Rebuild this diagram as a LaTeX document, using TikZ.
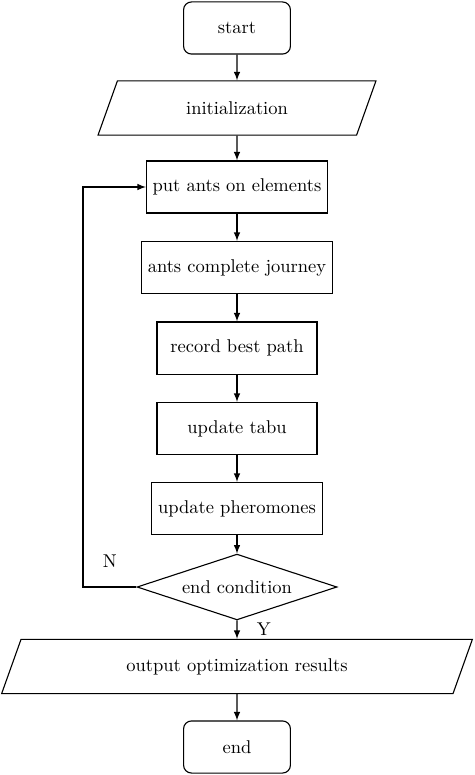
\documentclass[tikz,border=0pt]{standalone}
\usepackage{tikz}
\usetikzlibrary{
    arrows,
    shapes,
    calc
}
\tikzset{
    terminal/.style={draw, rounded corners=0.15cm, minimum width=2.03cm, minimum height=0.99cm},
    io/.style={draw, trapezium, trapezium left angle=70, trapezium right angle=110,
        trapezium stretches=true, minimum height=1.03cm},
    process/.style={draw, rectangle, minimum width=3.04cm, minimum height=0.99cm},
    decision/.style={draw, diamond, aspect=3, inner sep=0pt, minimum width=3.8cm, minimum height=1.25cm},
    flow/.style={->, >=latex}
}

\begin{document}
\begin{tikzpicture}[semithick]
    \useasboundingbox (0, 0) rectangle (9.006, -14.725);
    \node[terminal] (start) at (4.503, -0.532) {start};
    \node[io, minimum width=5.3cm] (init) at (4.503, -2.052) {initialization};
    \node[process] (put) at (4.503, -3.553) {put ants on elements};
    \node[process] (journey) at (4.503, -5.083) {ants complete journey};
    \node[process] (record) at (4.503, -6.612) {record best path};
    \node[process] (tabu) at (4.503, -8.142) {update tabu};
    \node[process] (pheromone) at (4.503, -9.662) {update pheromones};
    \node[decision] (cond) at (4.503, -11.153) {end condition};
    \node[io, minimum width=8.95cm] (result) at (4.503, -12.664) {output optimization results};
    \node[terminal] (end) at (4.503, -14.193) {end};
    \coordinate (back) at (1.577, -11.153);

    \draw[flow] (start) -- (init);
    \draw[flow] (init) -- (put);
    \draw[flow] (put) -- (journey);
    \draw[flow] (journey) -- (record);
    \draw[flow] (record) -- (tabu);
    \draw[flow] (tabu) -- (pheromone);
    \draw[flow] (pheromone) -- (cond);
    \draw[flow] (cond) -- node[right=0.25cm] {Y} (result);
    \draw[flow] (result) -- (end);
    \draw[flow] (cond.west) -- node[above=0.24cm] {N} (back) |- (put.west);
\end{tikzpicture}
\end{document}
